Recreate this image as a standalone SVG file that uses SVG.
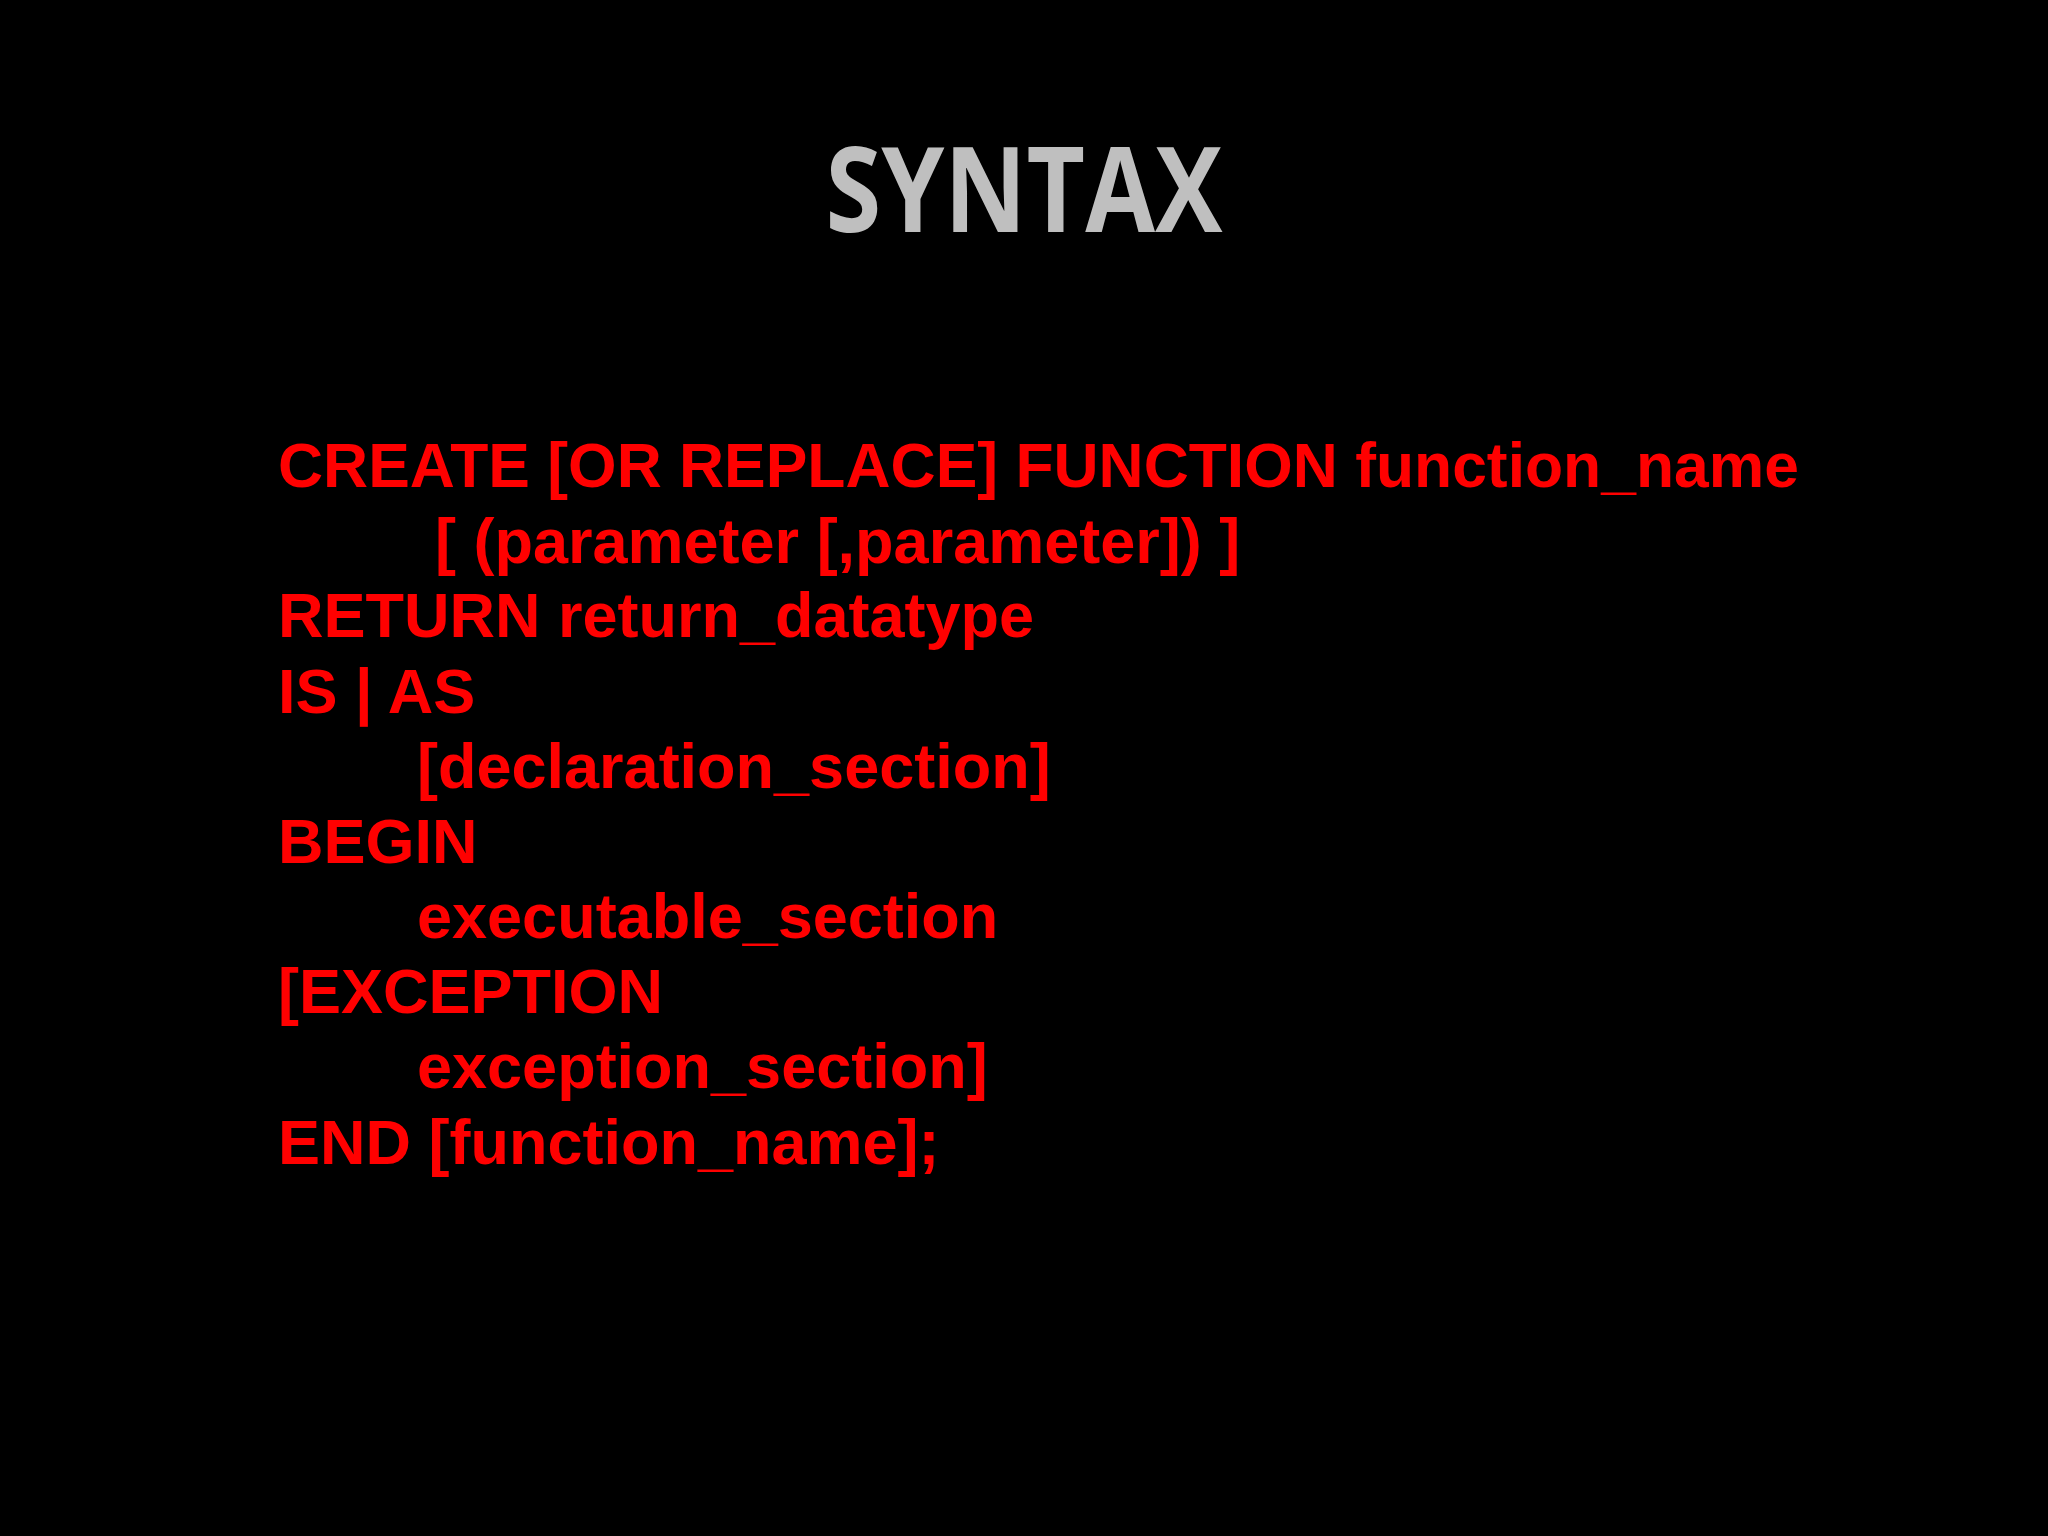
<svg xmlns="http://www.w3.org/2000/svg" width="2048" height="1536" viewBox="0 0 2048 1536">
<style>
.t{font-family:"Open Sans","Liberation Sans",sans-serif;font-weight:bold;fill:#bfbfbf;font-size:118px}
.c{font-family:"Liberation Sans",Arial,sans-serif;font-weight:bold;fill:#ff0000;font-size:63px}
</style>
<rect width="2048" height="1536" fill="#000"/>
<text class="t" x="1024" y="232" text-anchor="middle" textLength="397" lengthAdjust="spacingAndGlyphs">SYNTAX</text>
<g id="code">
<text class="c" x="278" y="487" textLength="1521" lengthAdjust="spacingAndGlyphs">CREATE [OR REPLACE] FUNCTION function_name</text>
<text class="c" x="435" y="563">[ (parameter [,parameter]) ]</text>
<text class="c" x="278" y="637">RETURN return_datatype</text>
<text class="c" x="278" y="713">IS | AS</text>
<text class="c" x="417" y="788">[declaration_section]</text>
<text class="c" x="278" y="863">BEGIN</text>
<text class="c" x="417" y="938">executable_section</text>
<text class="c" x="278" y="1013">[EXCEPTION</text>
<text class="c" x="417" y="1088">exception_section]</text>
<text class="c" x="278" y="1164">END [function_name];</text>
</g>
</svg>
